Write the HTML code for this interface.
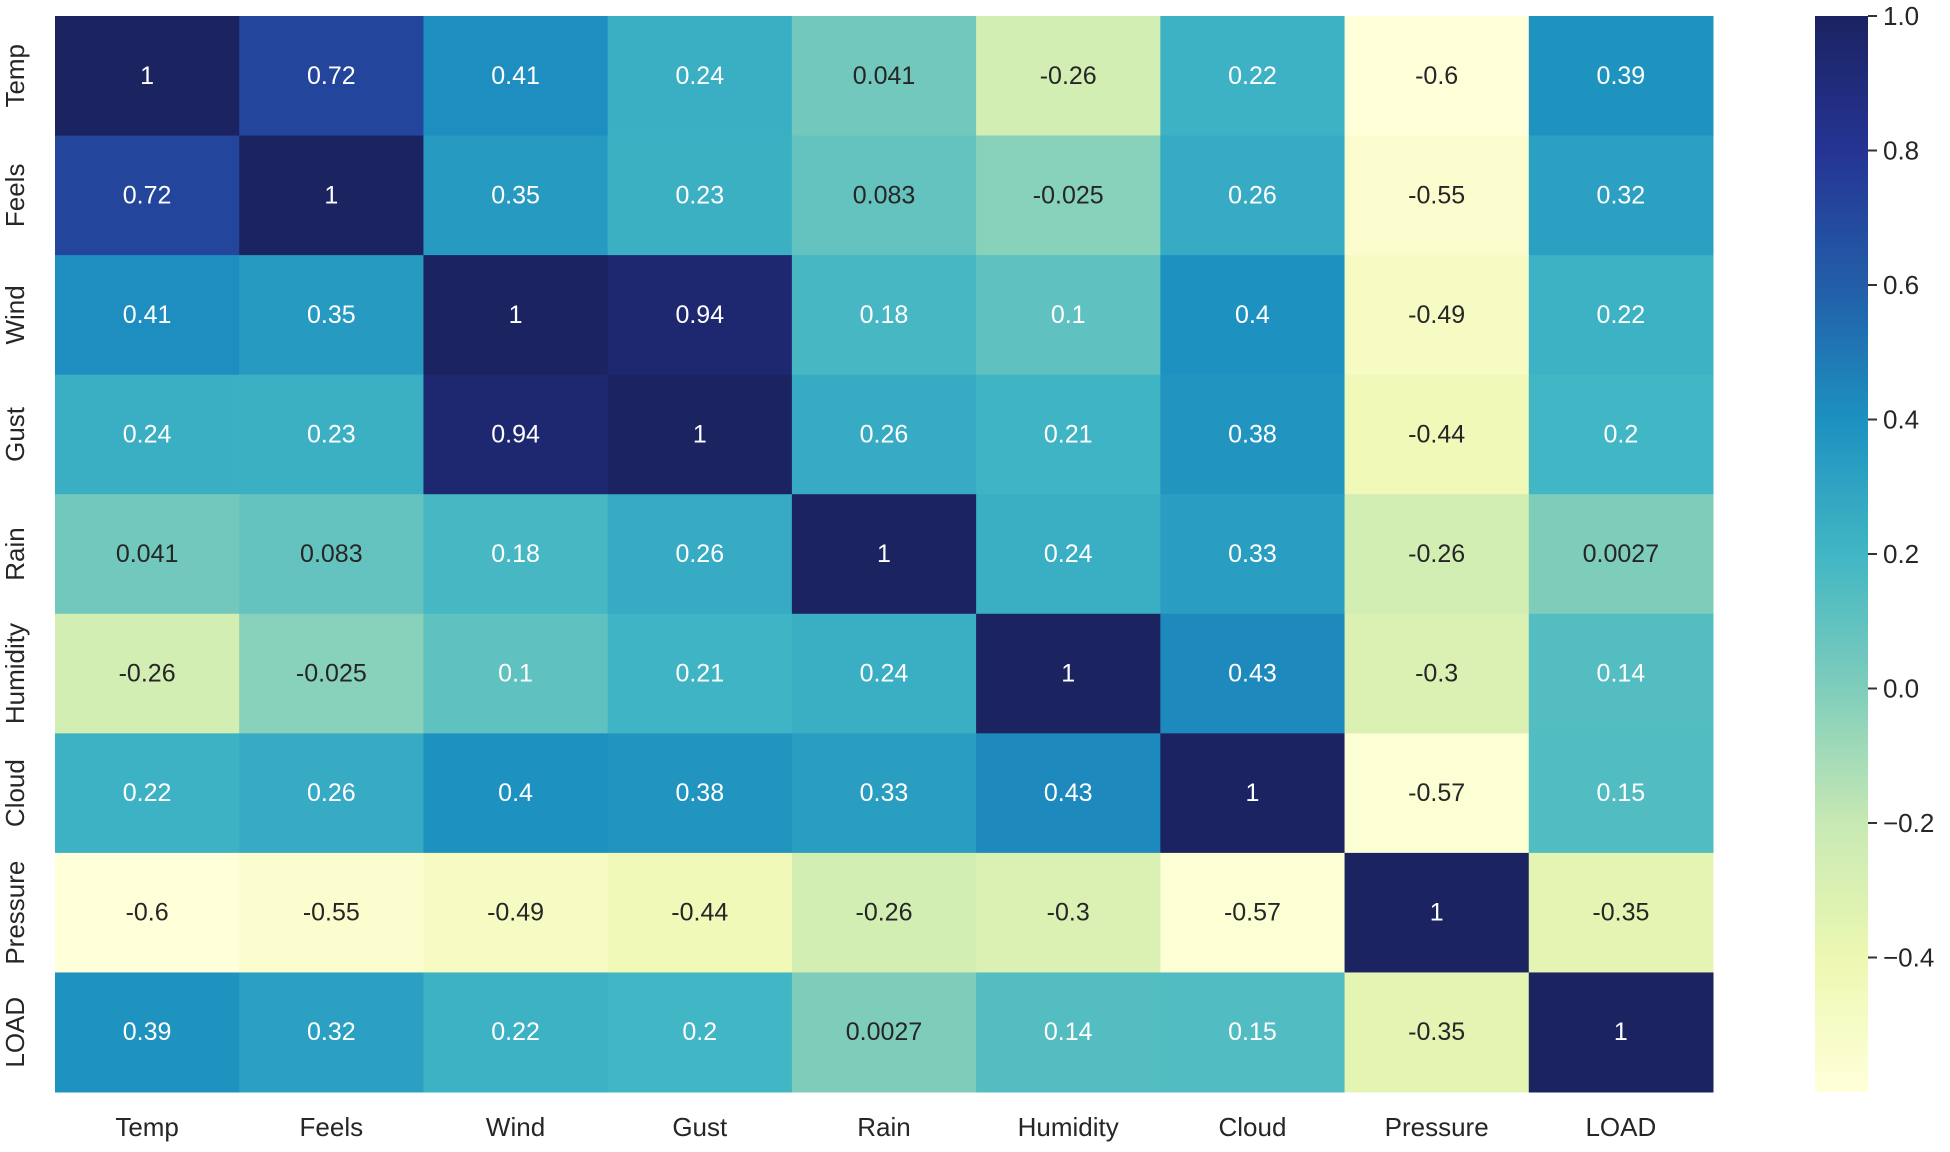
<!DOCTYPE html>
<html><head><meta charset="utf-8"><style>
body{margin:0;background:#fff;}
svg text{font-family:"Liberation Sans",sans-serif;}
</style></head><body>
<svg id="chart" width="1950" height="1147" xmlns="http://www.w3.org/2000/svg">
<defs><linearGradient id="cbgrad" x1="0" y1="1" x2="0" y2="0"></linearGradient></defs>
<g id="cells"></g>
<g id="xlabels"></g>
<g id="ylabels"></g>
<g id="cbar"></g>
</svg>
<script>
const labels = ["Temp","Feels","Wind","Gust","Rain","Humidity","Cloud","Pressure","LOAD"];
const row0 = [1,0.72,0.41,0.24,0.041,-0.26,0.22,-0.6,0.39];
const row1 = [0.72,1,0.35,0.23,0.083,-0.025,0.26,-0.55,0.32];
const row2 = [0.41,0.35,1,0.94,0.18,0.1,0.4,-0.49,0.22];
const row3 = [0.24,0.23,0.94,1,0.26,0.21,0.38,-0.44,0.2];
const row4 = [0.041,0.083,0.18,0.26,1,0.24,0.33,-0.26,0.0027];
const row5 = [-0.26,-0.025,0.1,0.21,0.24,1,0.43,-0.3,0.14];
const row6 = [0.22,0.26,0.4,0.38,0.33,0.43,1,-0.57,0.15];
const row7 = [-0.6,-0.55,-0.49,-0.44,-0.26,-0.3,-0.57,1,-0.35];
const row8 = [0.39,0.32,0.22,0.2,0.0027,0.14,0.15,-0.35,1];
const matrix = [row0,row1,row2,row3,row4,row5,row6,row7,row8];
const cbTicks = [1.0,0.8,0.6,0.4,0.2,0.0,-0.2,-0.4];
const cbTickLabels = ["1.0","0.8","0.6","0.4","0.2","0.0","\u22120.2","\u22120.4"];
const vmin = -0.6, vmax = 1.0;

const NS="http://www.w3.org/2000/svg";
const L=55,T=16,R=1713,B=1092;
const cw=(R-L)/labels.length, ch=(B-T)/labels.length;
const stops=["#ffffd9","#edf8b1","#c7e9b4","#7fcdbb","#41b6c4","#1d91c0","#225ea8","#253494","#1b2361"].map(h=>[parseInt(h.slice(1,3),16),parseInt(h.slice(3,5),16),parseInt(h.slice(5,7),16)]);
function cmap(v){let t=(v-vmin)/(vmax-vmin);t=Math.max(0,Math.min(1,t));const p=t*(stops.length-1);const i=Math.min(Math.floor(p),stops.length-2);const f=p-i;return stops[i].map((c,k)=>Math.round(c+(stops[i+1][k]-c)*f));}
function lum(c){const l=c.map(x=>{x/=255;return x<=0.03928?x/12.92:Math.pow((x+0.055)/1.055,2.4)});return 0.2126*l[0]+0.7152*l[1]+0.0722*l[2];}
function xs(j){return L+j*cw;} function ys(i){return T+i*ch;}
function el(tag,attrs,parent){const e=document.createElementNS(NS,tag);for(const k in attrs)e.setAttribute(k,attrs[k]);parent.appendChild(e);return e;}
const cells=document.getElementById('cells');
matrix.forEach((row,i)=>row.forEach((v,j)=>{
  const c=cmap(v);
  const r=el('rect',{x:xs(j),y:ys(i),width:cw+0.5,height:ch+0.5,fill:`rgb(${c})`},cells);
  
  
  const t=el('text',{x:xs(j)+cw/2,y:ys(i)+ch/2+8,'text-anchor':'middle','font-size':25,fill:lum(c)>0.45?'#262626':'#ffffff'},cells);
  t.textContent=String(v);
  
  
}));
const xl=document.getElementById('xlabels'), yl=document.getElementById('ylabels');
labels.forEach((lab,k)=>{
  const t=el('text',{x:xs(k)+cw/2,y:1136,'text-anchor':'middle','font-size':26,fill:'#262626'},xl);
  t.textContent=lab;
  
  
  const cy=ys(k)+ch/2;
  const u=el('text',{x:0,y:0,'text-anchor':'middle','font-size':26,fill:'#262626',transform:`translate(24,${cy}) rotate(-90)`},yl);
  u.textContent=lab;
  
  
});
const g=document.getElementById('cbgrad');
for(let k=0;k<=40;k++){const v=vmin+(vmax-vmin)*k/40;el('stop',{offset:(k/40),'stop-color':`rgb(${cmap(v)})`},g);}
const cb=document.getElementById('cbar');
const CX=1815,CW=53;
function cys(v){return B-(v-vmin)/(vmax-vmin)*(B-T);}
const bar=el('rect',{x:CX,y:T,width:CW,height:B-T,fill:'url(#cbgrad)'},cb);


cbTicks.forEach((v,k)=>{
  const y=cys(v);
  const ln=el('line',{x1:CX+CW,x2:CX+CW+9,y1:y,y2:y,stroke:'#333','stroke-width':2},cb);
  
  
  const t=el('text',{x:CX+CW+15,y:y+9,'font-size':26,fill:'#262626'},cb);
  t.textContent=cbTickLabels[k];
  
  
});
</script>
</body></html>
